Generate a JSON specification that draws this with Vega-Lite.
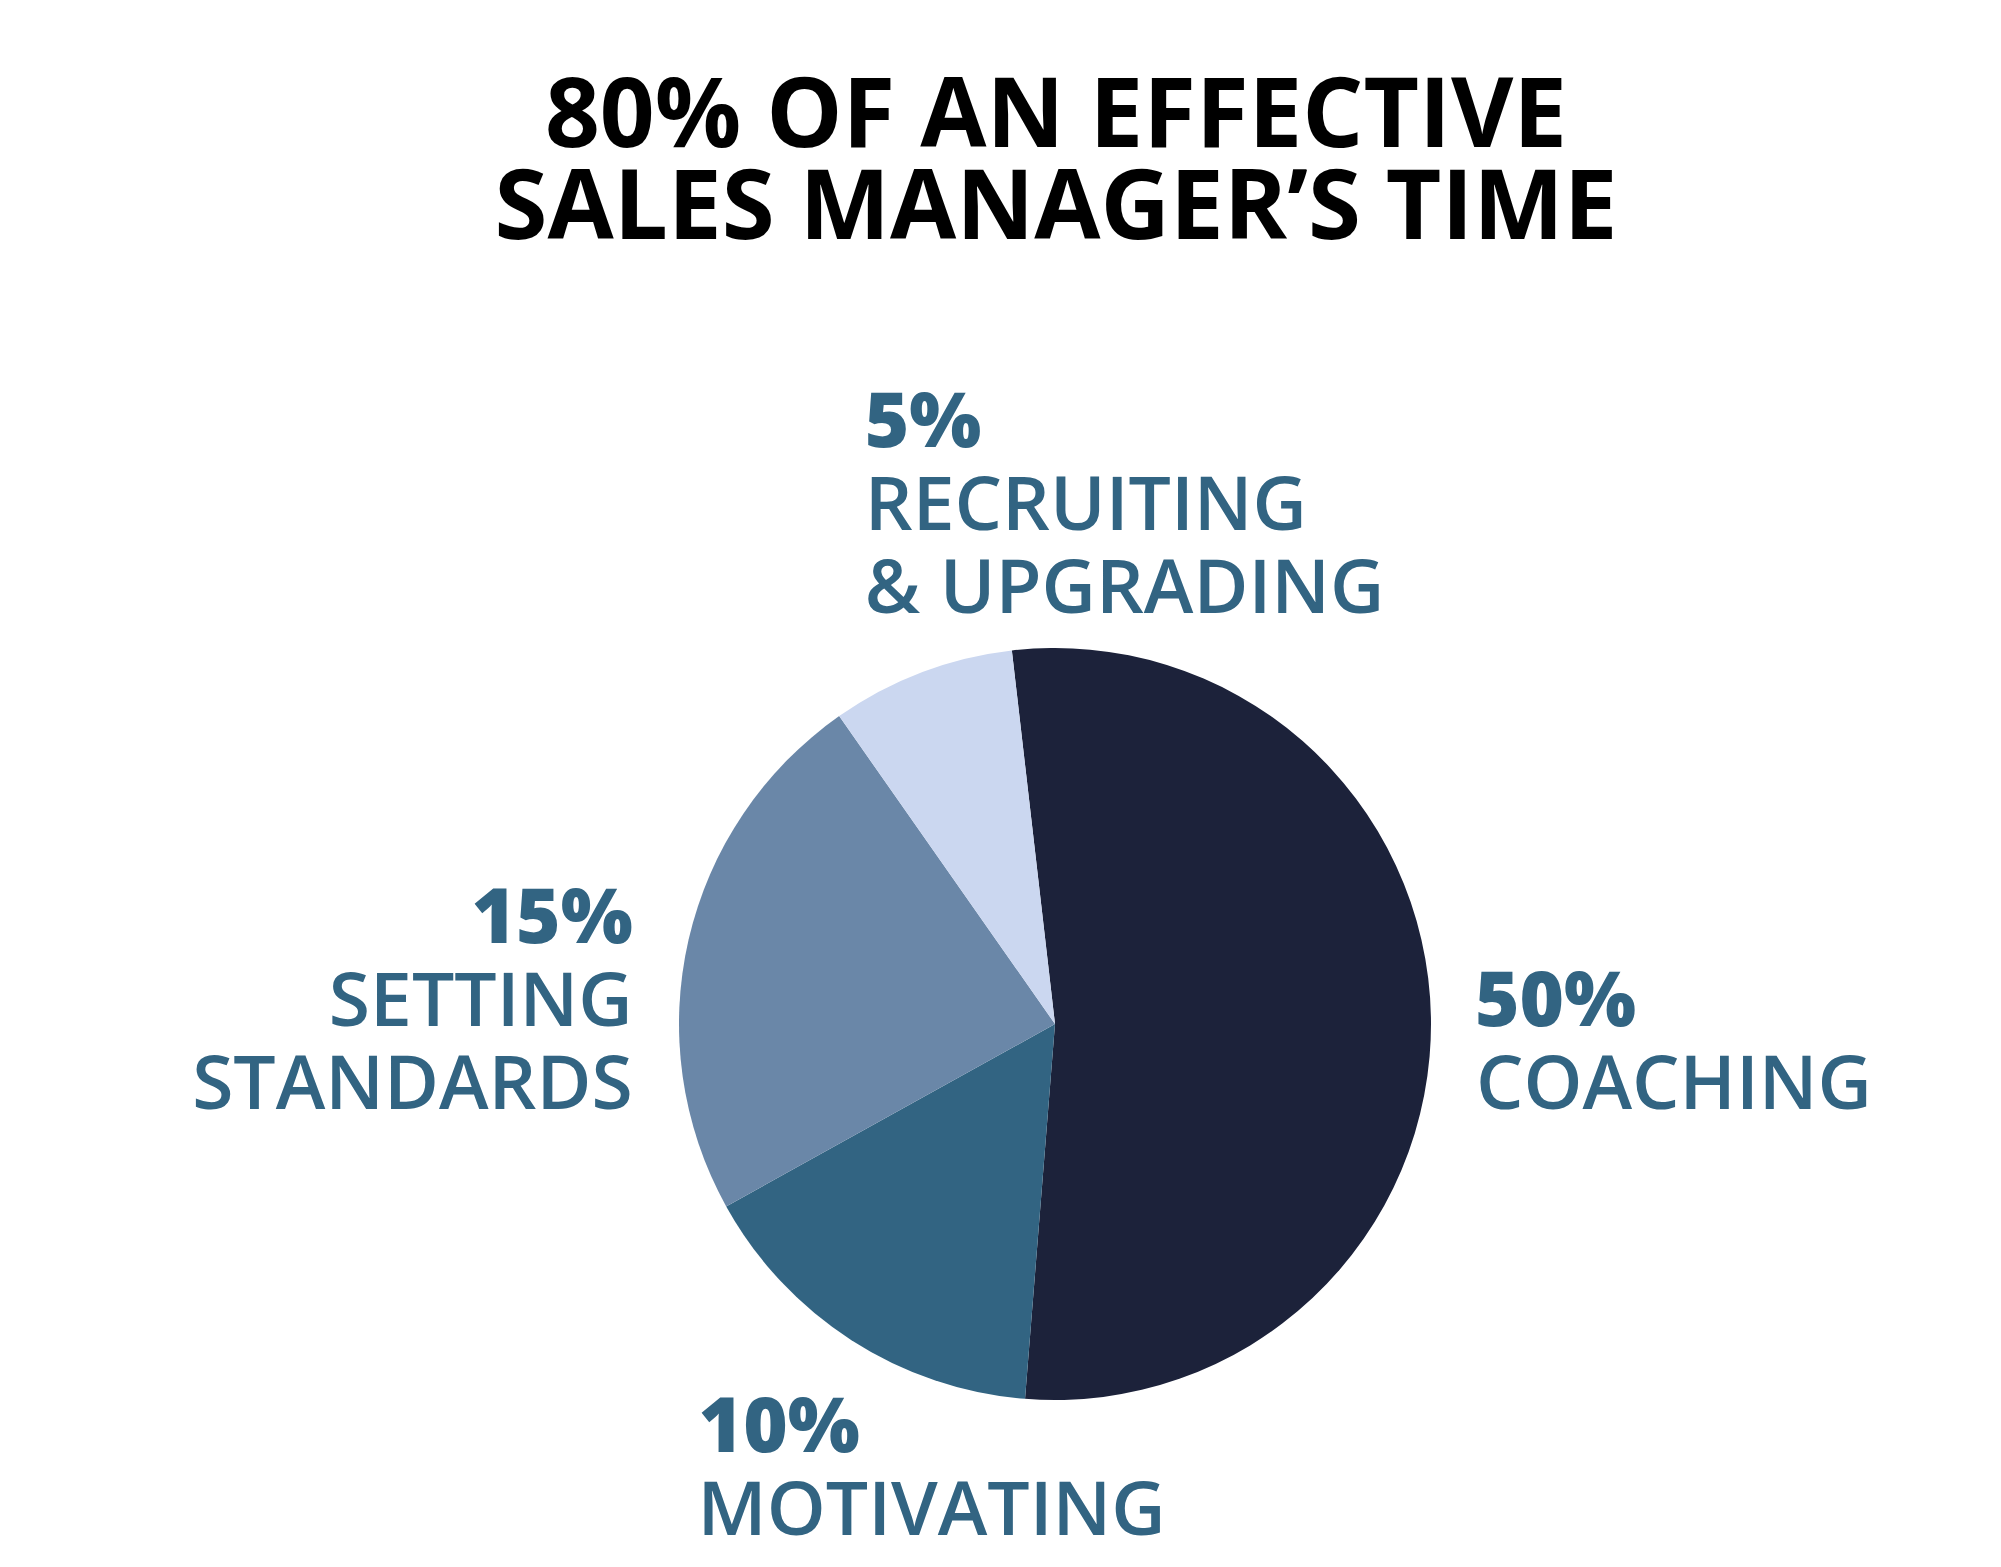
{
  "$schema": "https://vega.github.io/schema/vega-lite/v6.json",
  "autosize": {"type": "none"},
  "width": 752,
  "height": 752,
  "padding": {"left": 679, "top": 648, "right": 570, "bottom": 167},
  "background": "white",
  "title": {
    "text": ["80% OF AN EFFECTIVE", "SALES MANAGER’S TIME"],
    "font": "Open Sans",
    "fontSize": 96,
    "fontWeight": 700,
    "lineHeight": 92,
    "color": "#000000",
    "anchor": "middle",
    "frame": "group",
    "offset": 127,
    "dx": 1
  },
  "data": {
    "values": [
      {"rank": 1, "cat": "coaching", "share": 53.1, "pct": "50%", "name": "COACHING"},
      {"rank": 2, "cat": "motivating", "share": 15.67, "pct": "10%", "name": "MOTIVATING"},
      {"rank": 3, "cat": "setting", "share": 23.33, "pct": "15%", "name": "SETTING\nSTANDARDS"},
      {"rank": 4, "cat": "recruiting", "share": 7.9, "pct": "5%", "name": "RECRUITING\n& UPGRADING"}
    ]
  },
  "encoding": {
    "theta": {
      "field": "share",
      "type": "quantitative",
      "stack": true,
      "scale": {"range": [-0.115, 6.1682]}
    },
    "order": {"field": "rank", "type": "quantitative"}
  },
  "layer": [
    {
      "mark": {"type": "arc", "outerRadius": 376},
      "encoding": {
        "color": {
          "field": "cat",
          "type": "nominal",
          "legend": null,
          "scale": {
            "domain": ["coaching", "motivating", "setting", "recruiting"],
            "range": ["#1c223a", "#326482", "#6a87a8", "#cbd7f0"]
          }
        }
      }
    },
    {
      "mark": {"type": "text", "radius": 420, "align": "left", "baseline": "alphabetic", "dx": 0, "dy": 9, "font": "Open Sans", "fontSize": 76, "fontWeight": 800, "color": "#326482"},
      "encoding": {
        "detail": {"field": "cat"},
        "text": {"condition": {"test": "datum.cat === 'coaching'", "field": "pct"}, "value": ""}
      }
    },
    {
      "mark": {"type": "text", "radius": 420, "align": "left", "baseline": "alphabetic", "dx": 1, "dy": 92, "font": "Open Sans", "fontSize": 75, "fontWeight": 600, "color": "#326482", "lineBreak": "\n", "lineHeight": 83},
      "encoding": {
        "detail": {"field": "cat"},
        "text": {"condition": {"test": "datum.cat === 'coaching'", "field": "name"}, "value": ""}
      }
    },
    {
      "mark": {"type": "text", "radius": 420, "align": "left", "baseline": "alphabetic", "dx": -129, "dy": 75, "font": "Open Sans", "fontSize": 76, "fontWeight": 800, "color": "#326482"},
      "encoding": {
        "detail": {"field": "cat"},
        "text": {"condition": {"test": "datum.cat === 'motivating'", "field": "pct"}, "value": ""}
      }
    },
    {
      "mark": {"type": "text", "radius": 420, "align": "left", "baseline": "alphabetic", "dx": -130, "dy": 158, "font": "Open Sans", "fontSize": 75, "fontWeight": 600, "color": "#326482", "lineBreak": "\n", "lineHeight": 83},
      "encoding": {
        "detail": {"field": "cat"},
        "text": {"condition": {"test": "datum.cat === 'motivating'", "field": "name"}, "value": ""}
      }
    },
    {
      "mark": {"type": "text", "radius": 420, "align": "right", "baseline": "alphabetic", "dx": -13, "dy": 13, "font": "Open Sans", "fontSize": 76, "fontWeight": 800, "color": "#326482"},
      "encoding": {
        "detail": {"field": "cat"},
        "text": {"condition": {"test": "datum.cat === 'setting'", "field": "pct"}, "value": ""}
      }
    },
    {
      "mark": {"type": "text", "radius": 420, "align": "right", "baseline": "alphabetic", "dx": -13, "dy": 96, "font": "Open Sans", "fontSize": 75, "fontWeight": 600, "color": "#326482", "lineBreak": "\n", "lineHeight": 83},
      "encoding": {
        "detail": {"field": "cat"},
        "text": {"condition": {"test": "datum.cat === 'setting'", "field": "name"}, "value": ""}
      }
    },
    {
      "mark": {"type": "text", "radius": 420, "align": "left", "baseline": "alphabetic", "dx": -41, "dy": -184, "font": "Open Sans", "fontSize": 76, "fontWeight": 800, "color": "#326482"},
      "encoding": {
        "detail": {"field": "cat"},
        "text": {"condition": {"test": "datum.cat === 'recruiting'", "field": "pct"}, "value": ""}
      }
    },
    {
      "mark": {"type": "text", "radius": 420, "align": "left", "baseline": "alphabetic", "dx": -41, "dy": -101, "font": "Open Sans", "fontSize": 75, "fontWeight": 600, "color": "#326482", "lineBreak": "\n", "lineHeight": 83},
      "encoding": {
        "detail": {"field": "cat"},
        "text": {"condition": {"test": "datum.cat === 'recruiting'", "field": "name"}, "value": ""}
      }
    }
  ],
  "config": {"view": {"stroke": null}}
}
